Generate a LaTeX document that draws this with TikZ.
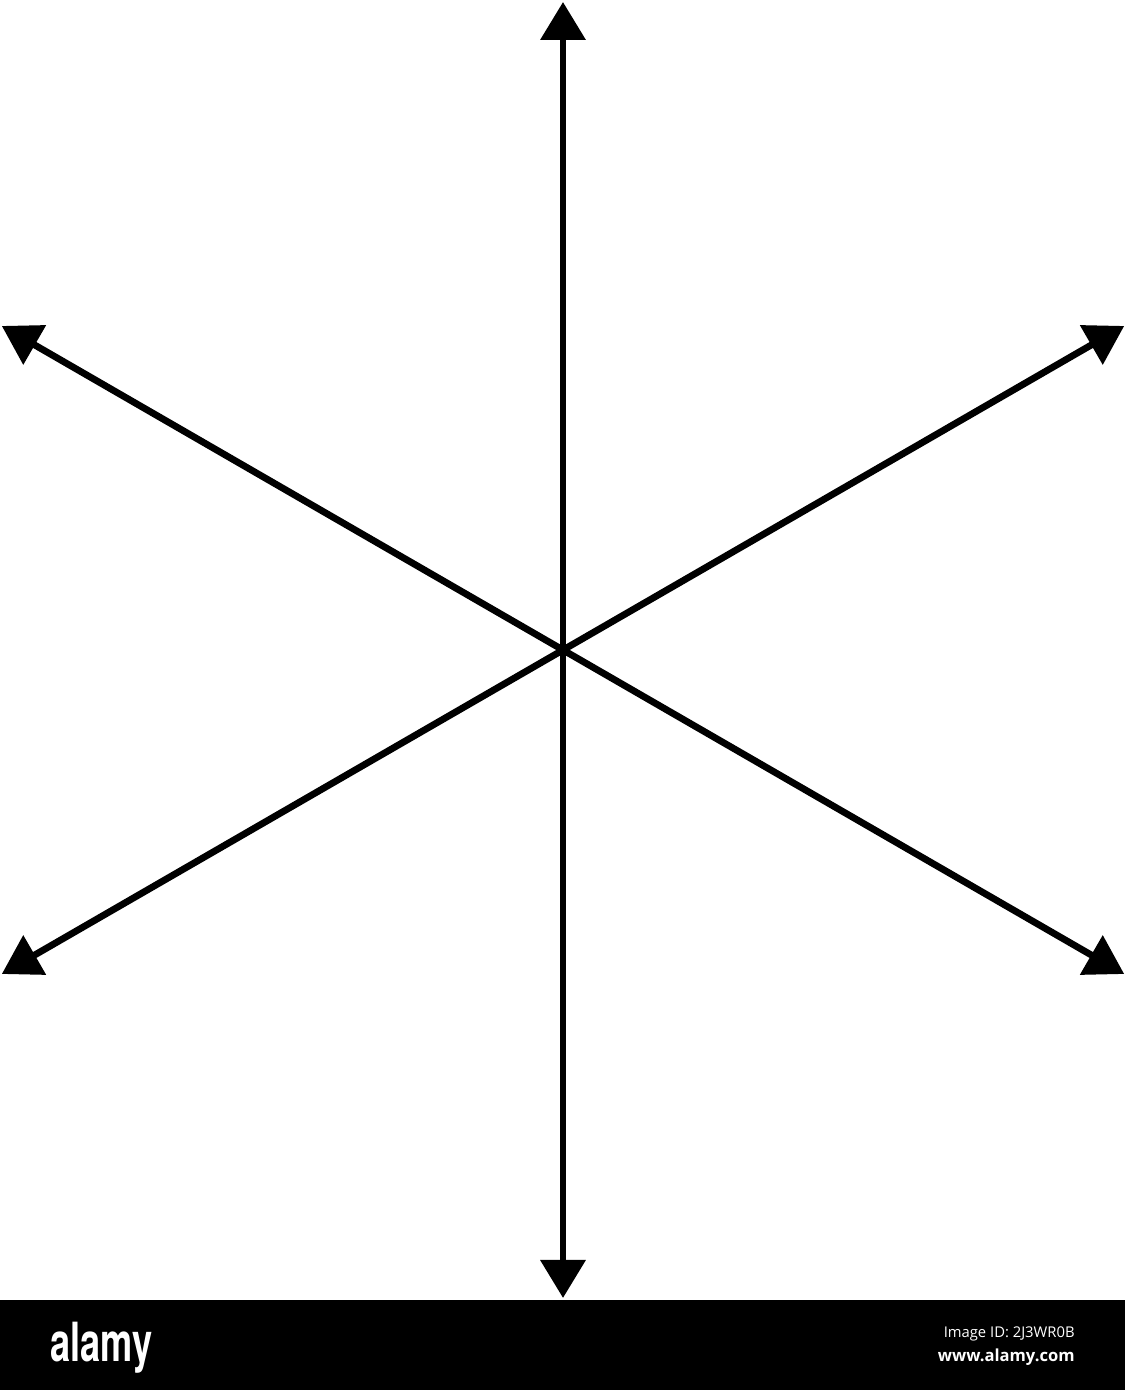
\documentclass[tikz,border=0pt]{standalone}
\usepackage{fontspec}
\usetikzlibrary{arrows.meta}
\newfontfamily\logofont{TeX Gyre Heros}
\newfontfamily\wmfont{Open Sans}

\begin{document}
\begin{tikzpicture}[x=0.5pt,y=0.5pt,
spoke/.style={line width=3.4pt,-{Triangle[length=19pt,width=22pt]}},
wmtext/.style={white,inner sep=0pt}]
\useasboundingbox(0,0)rectangle(1125,1390);
% star
\coordinate(O)at(563,740);
\foreach\ang/\name in{90/N,30/NE,-30/SE,-90/S,-150/SW,150/NW}{
\coordinate(\name)at([shift={(\ang:648)}]O);
\draw[spoke](O)--(\name);
}
% bottom bar
\fill[black](0,0)rectangle(1125,90);
\node[wmtext,anchor=base west,xscale=0.67,font=\logofont\bfseries\fontsize{27}{27}\selectfont]
(logo)at(50,28){alamy};
\node[wmtext,anchor=base east,font=\wmfont\fontsize{7.4}{7.4}\selectfont]
(imgid)at(1075,52){Image ID: 2J3WR0B};
\node[wmtext,anchor=base east,font=\wmfont\bfseries\fontsize{8.3}{8.3}\selectfont]
(site)at(1075,28){www.alamy.com};
\end{tikzpicture}
\end{document}
